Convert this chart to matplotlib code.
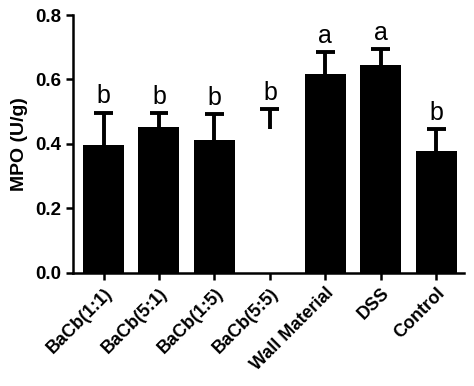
import numpy as np
import matplotlib.pyplot as plt

plt.rcParams['font.family'] = ['Liberation Sans', 'DejaVu Sans']

# data
groups = ['BaCb(1:1)', 'BaCb(5:1)', 'BaCb(1:5)', 'BaCb(5:5)',
          'Wall Material', 'DSS', 'Control']
mpo = [0.396, 0.453, 0.413, 0.445, 0.616, 0.645, 0.377]
err = [0.101, 0.042, 0.080, 0.064, 0.069, 0.049, 0.068]
letters = ['b', 'b', 'b', 'b', 'a', 'a', 'b']
hidden = [False, False, False, True, False, False, False]

fig = plt.figure(figsize=(4.74, 3.86), dpi=100)
ax = fig.add_axes([0.154, 0.2935, 0.825, 0.6675])

x = np.arange(len(groups))
mpo = np.array(mpo)
err = np.array(err)
colors = ['none' if h else 'black' for h in hidden]
ax.bar(x, mpo, width=0.74, color=colors, edgecolor='none', zorder=2)
# upper-only error bars
ax.vlines(x, mpo, mpo + err, color='black', linewidth=2.8, zorder=1)
ax.hlines(mpo + err, x - 0.17, x + 0.17, color='black', linewidth=2.8, zorder=1)

for xi, top, lab in zip(x, mpo + err, letters):
    ax.annotate(lab, (xi, top), xytext=(0, 3), textcoords='offset points',
                ha='center', va='bottom', fontsize=18)

ax.set_xlim(-0.55, 6.5)
ax.set_ylim(0, 0.8)
ax.set_yticks([0.0, 0.2, 0.4, 0.6, 0.8])
ax.set_yticklabels(['0.0', '0.2', '0.4', '0.6', '0.8'], fontsize=13.5, fontweight='bold')
ax.set_xticks(x)
ax.set_xticklabels(groups, rotation=45, ha='right', rotation_mode='anchor',
                   fontsize=13, fontweight='bold')
ax.set_ylabel('MPO (U/g)', fontsize=14, fontweight='bold', labelpad=5)

for s in ['top', 'right']:
    ax.spines[s].set_visible(False)
for s in ['left', 'bottom']:
    ax.spines[s].set_linewidth(1.8)
ax.tick_params(width=1.8, length=5, direction='out')

fig.savefig('out.png', dpi=100)
